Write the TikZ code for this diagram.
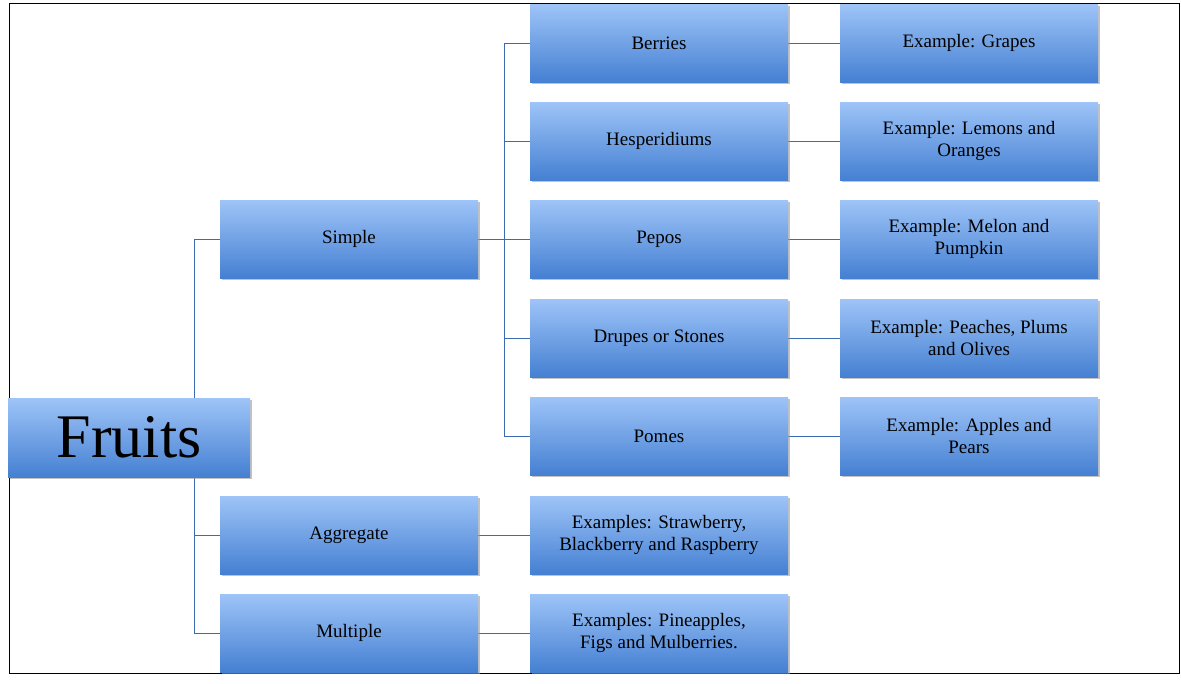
\documentclass[tikz,border=0pt]{standalone}
\usepackage{fontspec}
\setmainfont{Liberation Serif}
\usetikzlibrary{shadows}
\definecolor{topc}{HTML}{9EC4F8}
\definecolor{botc}{HTML}{4580D2}
\definecolor{linec}{HTML}{3D6BB0}
\tikzset{
  bx/.style={minimum width=258pt,minimum height=78pt,inner sep=0pt,top color=topc,bottom color=botc,
    draw=none,align=center,font=\fontsize{19}{22}\selectfont,
    drop shadow={shadow xshift=2pt,shadow yshift=-2pt,fill=black!40,opacity=0.6}},
  ln/.style={draw=linec,line width=0.9pt}
}
\begin{document}
\begin{tikzpicture}[x=1pt,y=-1pt]
\useasboundingbox (0,0) rectangle (1181,683);
\draw[line width=1pt] (9,3) rectangle (1179,673);
% connectors first
\coordinate (fa) at (194,398);
\coordinate (fb) at (194,477);
\coordinate (s1) at (504,43);
\coordinate (s2) at (504,436);
\draw[ln] (fa) |- (349,239);
\draw[ln] (fb) |- (349,535);
\draw[ln] (fb) |- (349,633);
\draw[ln] (478,239) -- (504,239);
\draw[ln] (s1) -- (s2);
\foreach \y in {43,141,239,338,436}{\draw[ln] (504,\y) -- (659,\y); \draw[ln] (659,\y) -- (969,\y);}
\draw[ln] (349,535) -- (659,535);
\draw[ln] (349,633) -- (659,633);
% nodes
\node[bx,minimum width=242pt,minimum height=79pt,font=\fontsize{62}{66}\selectfont] (fr) at (129,437.5) {Fruits};
\node[bx] (si) at (349,239) {Simple};
\node[bx] (ag) at (349,535) {Aggregate};
\node[bx] (mu) at (349,633) {Multiple};
\node[bx] (be) at (659,43) {Berries};
\node[bx] (he) at (659,141) {Hesperidiums};
\node[bx] (pe) at (659,239) {Pepos};
\node[bx] (dr) at (659,338) {Drupes or Stones};
\node[bx] (po) at (659,436) {Pomes};
\node[bx] (ae) at (659,535) {Examples: Strawberry,\\Blackberry and Raspberry};
\node[bx] (me) at (659,633) {Examples: Pineapples,\\Figs and Mulberries.};
\node[bx] (e1) at (969,43) {Example: Grapes};
\node[bx] (e2) at (969,141) {Example: Lemons and\\Oranges};
\node[bx] (e3) at (969,239) {Example: Melon and\\Pumpkin};
\node[bx] (e4) at (969,338) {Example: Peaches, Plums\\and Olives};
\node[bx] (e5) at (969,436) {Example: Apples and\\Pears};
\end{tikzpicture}
\end{document}
